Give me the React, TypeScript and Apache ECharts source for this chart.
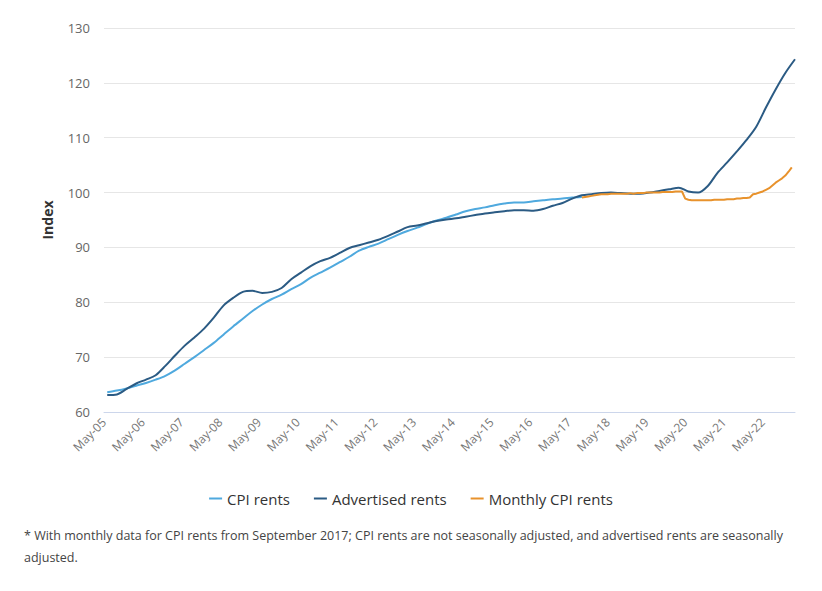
import React, { useEffect, useRef } from "react";
import * as echarts from "echarts";

const MONTHS = ["Jan", "Feb", "Mar", "Apr", "May", "Jun", "Jul", "Aug", "Sep", "Oct", "Nov", "Dec"];
// Monthly categories May-05 .. Mar-23
const categories: string[] = [];
for (let i = 0; i < 215; i++) {
  const mi = (4 + i) % 12;
  const yr = 5 + Math.floor((4 + i) / 12);
  categories.push(MONTHS[mi] + "-" + String(yr).padStart(2, "0"));
}

// CPI rents, quarterly from Jun-05 to Sep-17
const cpiRents = [
  63.6, 63.9, 64.3, 64.8, 65.3, 65.9, 66.6, 67.6, 68.8, 70.0,
  71.3, 72.6, 74.1, 75.6, 77.0, 78.4, 79.6, 80.6, 81.4, 82.4,
  83.3, 84.5, 85.4, 86.3, 87.3, 88.3, 89.4, 90.1, 90.7, 91.5,
  92.3, 93.0, 93.6, 94.3, 94.9, 95.4, 96.0, 96.6, 97.0, 97.3,
  97.7, 98.0, 98.2, 98.2, 98.4, 98.6, 98.8, 98.9, 99.1, 99.2,
];

// Advertised rents, quarterly from Jun-05 to Mar-23
const advertisedRents = [
  63.1, 63.2, 64.2, 65.2, 65.9, 66.7, 68.4, 70.3, 72.1, 73.6,
  75.2, 77.2, 79.4, 80.8, 81.9, 82.1, 81.7, 81.9, 82.6, 84.2,
  85.4, 86.6, 87.5, 88.1, 89.0, 89.9, 90.4, 90.9, 91.4, 92.1,
  92.9, 93.7, 94.0, 94.4, 94.8, 95.1, 95.3, 95.6, 95.9, 96.2,
  96.4, 96.6, 96.8, 96.8, 96.7, 97.0, 97.6, 98.1, 98.9, 99.5,
  99.7, 99.9, 100.0, 99.9, 99.8, 99.8, 100.0, 100.3, 100.6, 100.9,
  100.2, 100.0, 101.2, 103.6, 105.5, 107.5, 109.6, 112.0, 115.5, 118.8,
  121.8, 124.3,
];

// Monthly CPI rents, from Sep-17 to Feb-23
const monthlyCpiRents = [
  99.1, 99.2, 99.3, 99.4, 99.5, 99.6, 99.7, 99.7, 99.7, 99.8,
  99.8, 99.8, 99.8, 99.8, 99.8, 99.9, 99.8, 99.9, 99.9, 99.9,
  100.0, 100.0, 100.0, 100.0, 100.0, 100.1, 100.1, 100.1, 100.1, 100.2,
  100.2, 100.2, 98.9, 98.7, 98.6, 98.6, 98.6, 98.6, 98.6, 98.6,
  98.6, 98.7, 98.7, 98.7, 98.7, 98.8, 98.8, 98.8, 98.9, 98.9,
  99.0, 99.0, 99.1, 99.7, 99.8, 100.0, 100.2, 100.5, 100.8, 101.3,
  101.8, 102.2, 102.6, 103.1, 103.8, 104.6,
];

const yTicks = { min: 60, max: 130, interval: 10 };

const FONT = "'Open Sans', 'Noto Sans', sans-serif";

export default function App() {
  const ref = useRef<HTMLDivElement>(null);
  useEffect(() => {
    if (!ref.current) return;
    const chart = echarts.init(ref.current, null, { renderer: "svg" });
    const cpiData = cpiRents.map((v, k) => [categories[1 + 3 * k], v]);
    const advData = advertisedRents.map((v, k) => [categories[1 + 3 * k], v]);
    const monData = monthlyCpiRents.map((v, k) => [categories[148 + k], v]);
    chart.setOption({
      animation: false,
      textStyle: { fontFamily: FONT },
      grid: { left: 104, right: 27, top: 28, bottom: 179, containLabel: false },
      legend: {
        left: "center",
        top: 486,
        icon: "rect",
        itemWidth: 13,
        itemHeight: 2,
        itemGap: 24,
        textStyle: { fontSize: 15, color: "#333", fontFamily: FONT },
        data: ["CPI rents", "Advertised rents", "Monthly CPI rents"],
      },
      xAxis: {
        type: "category",
        data: categories,
        boundaryGap: false,
        axisLine: { lineStyle: { color: "#ccd6eb" } },
        axisTick: { show: false },
        axisLabel: {
          interval: 11,
          rotate: 45,
          margin: 8,
          fontSize: 12,
          color: "#777",
          fontFamily: FONT,
        },
        splitLine: { show: false },
      },
      yAxis: {
        type: "value",
        min: yTicks.min,
        max: yTicks.max,
        interval: yTicks.interval,
        name: "Index",
        nameLocation: "middle",
        nameGap: 50,
        nameRotate: 90,
        nameTextStyle: { fontSize: 14, fontWeight: "bold", color: "#333", fontFamily: FONT },
        axisLine: { show: false },
        axisTick: { show: false },
        axisLabel: { margin: 14, fontSize: 13, color: "#666", fontFamily: FONT },
        splitLine: { lineStyle: { color: "#e6e6e6", width: 1 } },
      },
      series: [
        {
          name: "CPI rents",
          type: "line",
          data: cpiData,
          showSymbol: false,
          smooth: 0.3,
          lineStyle: { color: "#4fa9de", width: 2 },
          itemStyle: { color: "#4fa9de" },
        },
        {
          name: "Advertised rents",
          type: "line",
          data: advData,
          showSymbol: false,
          smooth: 0.3,
          lineStyle: { color: "#2b5b84", width: 2 },
          itemStyle: { color: "#2b5b84" },
        },
        {
          name: "Monthly CPI rents",
          type: "line",
          data: monData,
          showSymbol: false,
          lineStyle: { color: "#e8922c", width: 2 },
          itemStyle: { color: "#e8922c" },
        },
      ],
      graphic: [
        {
          type: "text",
          left: 24,
          top: 524,
          style: {
            text:
              "* With monthly data for CPI rents from September 2017; CPI rents are not seasonally adjusted, and advertised rents are seasonally\nadjusted.",
            fontSize: 12.5,
            lineHeight: 22,
            fill: "#444",
            fontFamily: FONT,
          },
        },
      ],
    });
    return () => chart.dispose();
  }, []);
  return (
    <div
      ref={ref}
      style={{ position: "fixed", left: 0, top: 0, width: 822, height: 591, background: "#fff" }}
    />
  );
}
